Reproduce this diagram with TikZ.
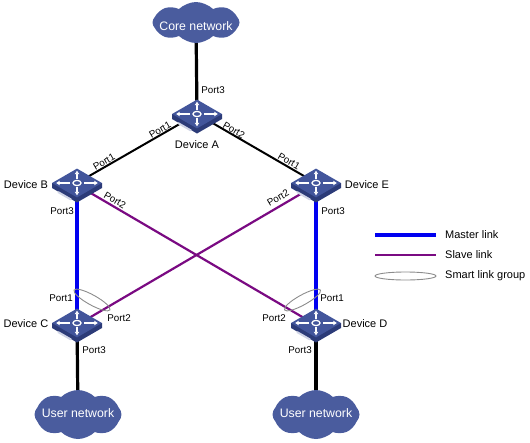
\documentclass[tikz,border=0pt]{standalone}
\usepackage{fontspec}
\setmainfont{Liberation Sans}
\usetikzlibrary{shapes.geometric, shapes.symbols, arrows.meta, backgrounds}
\definecolor{azulnube}{HTML}{4A5C9E}
\definecolor{cara}{HTML}{42559B}
\definecolor{lado}{HTML}{2C3B78}
\definecolor{maestro}{HTML}{0000F0}
\definecolor{esclavo}{HTML}{7A0A82}
\definecolor{grupo}{HTML}{8C8C8C}
\tikzset{
  nube/.style={cloud, cloud puffs=8, cloud puff arc=90, cloud ignores aspect, draw=none, fill=azulnube,
    minimum width=87pt, minimum height=46pt, inner sep=0pt},
  nubetexto/.style={text=white, inner sep=0pt, font=\fontsize{12.3}{14}\selectfont},
  equipo/.style={diamond, fill=cara, draw=none, minimum width=50pt, minimum height=29pt, inner sep=0pt},
  flechita/.style={-{Latex[length=3.6pt,width=5pt]}, white, line width=1.6pt},
  etiqueta/.style={font=\fontsize{11}{13}\selectfont, inner sep=0pt},
  puerto/.style={font=\fontsize{9.8}{11}\selectfont, inner sep=0pt},
  troncal/.style={black, line width=3.2pt},
  enlace/.style={black, line width=2pt},
  master/.style={maestro, line width=3.4pt},
  slave/.style={esclavo, line width=2.2pt},
  smart/.style={ellipse, draw=grupo, line width=0.9pt, minimum width=41pt, minimum height=10pt, inner sep=0pt}
}
% icono del conmutador: nombre, posicion
\newcommand{\equipoicono}[2]{
  \fill[lado] ([xshift=-25pt]#2) -- ++(0,5) -- ++(25,14.5) -- ++(25,-14.5) -- ++(0,-5) -- cycle;
  \node[equipo] (#1) at (#2) {};
  \draw[white!75!cara, line width=2pt] ([shift={(-19,9)}]#2) -- ([shift={(-6,16.5)}]#2);
  \draw[flechita] ([shift={(0,-4)}]#2) -- ([shift={(0,-12.5)}]#2);
  \draw[flechita] ([shift={(0,4)}]#2) -- ([shift={(0,12.5)}]#2);
  \draw[flechita] ([shift={(-7,0)}]#2) -- ([shift={(-21,0)}]#2);
  \draw[flechita] ([shift={(7,0)}]#2) -- ([shift={(21,0)}]#2);
  \draw[white, line width=1.3pt] (#2) ellipse (4pt and 2.6pt);
}

\begin{document}
\begin{tikzpicture}[x=1pt, y=-1pt]
  \useasboundingbox (0,0) rectangle (530,442);

  % --- Redes ---
  \node[nube, minimum height=41pt, label={[nubetexto, yshift=-4pt]center:Core network}] (core) at (196,22.5) {};
  \node[nube, minimum height=49pt, label={[nubetexto, yshift=1pt]center:User network}] (userc) at (78,414.5) {};
  \node[nube, minimum height=49pt, label={[nubetexto, yshift=1pt]center:User network}] (userd) at (316,414.5) {};

  % --- Equipos ---
  \equipoicono{deva}{197,114}
  \equipoicono{devb}{77,183}
  \equipoicono{deve}{316,183}
  \equipoicono{devc}{77,323}
  \equipoicono{devd}{316,323}

  % --- Enlaces ---
  \begin{scope}[on background layer]
    \draw[troncal] (core.center) -- (deva.center);
    \draw[enlace] (deva.center) -- (devb.center);
    \draw[enlace] (deva.center) -- (deve.center);
    \draw[master] (devb.center) -- (devc.center);
    \draw[master] (deve.center) -- (devd.center);
    \draw[slave] ([yshift=-2pt]devb.center) -- ([yshift=-2pt]devd.center);
    \draw[slave] ([yshift=-2pt]deve.center) -- ([yshift=-2pt]devc.center);
    \draw[troncal] (devc.center) -- (userc.center);
    \draw[troncal] (devd.center) -- (userd.center);
  \end{scope}

  % --- Grupos ---
  \node[smart, rotate=-29] (grupoc) at (92,300) {};
  \node[smart, rotate=29] (grupod) at (302.5,300) {};

  % --- Nombres ---
  \node[etiqueta] (nomba) at (197,145) {Device A};
  \node[etiqueta] (nombb) at (26,185) {Device B};
  \node[etiqueta] (nombe) at (367,185) {Device E};
  \node[etiqueta] (nombc) at (26,324) {Device C};
  \node[etiqueta] (nombd) at (365,324) {Device D};

  % --- Puertos ---
  \node[puerto] (pa3) at (213,90) {Port3};
  \node[puerto, rotate=30] (pa1) at (160,130) {Port1};
  \node[puerto, rotate=-30] (pa2) at (234,130) {Port2};
  \node[puerto, rotate=30] (pb1) at (104,162) {Port1};
  \node[puerto, rotate=-30] (pb2) at (115,200) {Port2};
  \node[puerto] (pb3) at (62,211) {Port3};
  \node[puerto, rotate=-30] (pe1) at (289,161) {Port1};
  \node[puerto, rotate=30] (pe2) at (278,198) {Port2};
  \node[puerto] (pe3) at (333,211) {Port3};
  \node[puerto] (pc1) at (61,298) {Port1};
  \node[puerto] (pc2) at (119,318) {Port2};
  \node[puerto] (pc3) at (94,350) {Port3};
  \node[puerto] (pd1) at (332,298) {Port1};
  \node[puerto] (pd2) at (274,318) {Port2};
  \node[puerto] (pd3) at (300,350) {Port3};

  % --- Leyenda ---
  \coordinate (lm0) at (375,235);
  \coordinate (ls0) at (375,255);
  \node[etiqueta, anchor=west] (lm) at (445,235) {Master link};
  \node[etiqueta, anchor=west] (ls) at (445,255) {Slave link};
  \node[etiqueta, anchor=west] (lg) at (445,276) {Smart link group};
  \draw[master] (lm0) -- (436,235);
  \draw[slave] (ls0) -- (436,255);
  \node[smart, minimum width=61pt, minimum height=8pt] (lg0) at (405.5,276) {};

\end{tikzpicture}
\end{document}
